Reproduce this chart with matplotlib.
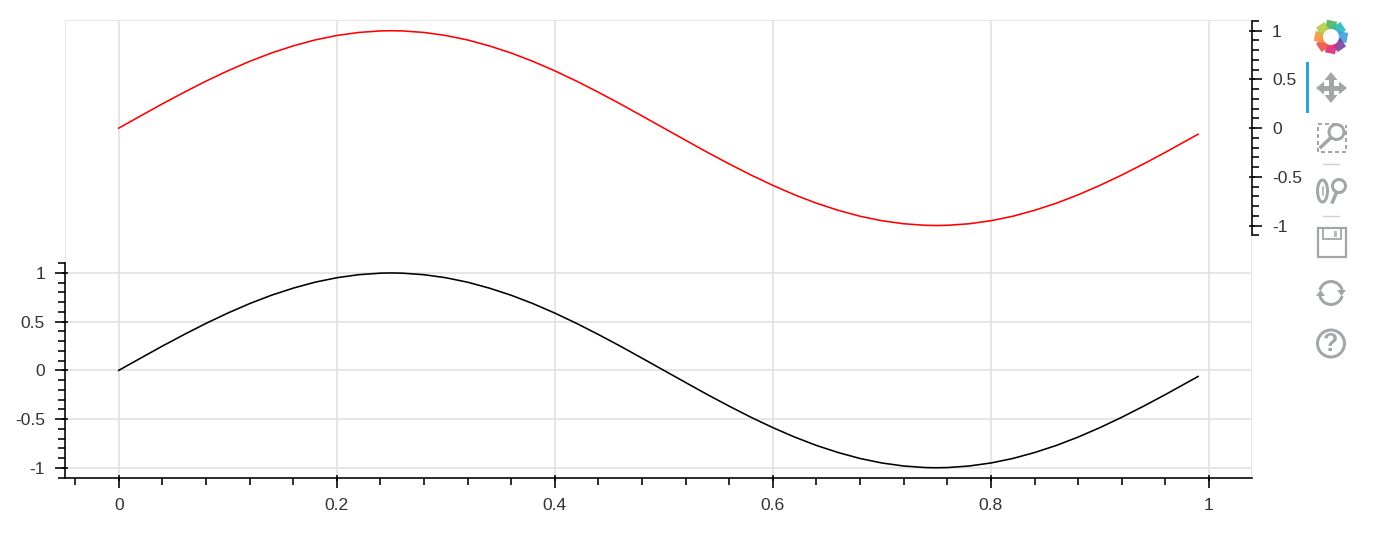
import matplotlib
matplotlib.use('Agg')
import matplotlib.pyplot as plt
from matplotlib.patches import Rectangle, Circle, Polygon, RegularPolygon, Arc, Ellipse

plt.rcParams['font.family'] = ['Liberation Sans', 'DejaVu Sans']
plt.rcParams['axes.unicode_minus'] = False

# values
x_vals = [0.00, 0.02, 0.04, 0.06, 0.08, 0.10, 0.12, 0.14, 0.16, 0.18,
          0.20, 0.22, 0.24, 0.25, 0.26, 0.28, 0.30, 0.32, 0.34, 0.36, 0.38,
          0.40, 0.42, 0.44, 0.46, 0.48, 0.50, 0.52, 0.54, 0.56, 0.58,
          0.60, 0.62, 0.64, 0.66, 0.68, 0.70, 0.72, 0.74, 0.75, 0.76, 0.78,
          0.80, 0.82, 0.84, 0.86, 0.88, 0.90, 0.92, 0.94, 0.96, 0.98, 0.99]
black_vals = [0.000, 0.125, 0.249, 0.368, 0.482, 0.588, 0.685, 0.771, 0.844, 0.905,
              0.951, 0.982, 0.998, 1.000, 0.998, 0.982, 0.951, 0.905, 0.844, 0.771, 0.685,
              0.588, 0.482, 0.368, 0.249, 0.125, 0.000, -0.125, -0.249, -0.368, -0.482,
              -0.588, -0.685, -0.771, -0.844, -0.905, -0.951, -0.982, -0.998, -1.000, -0.998, -0.982,
              -0.951, -0.905, -0.844, -0.771, -0.685, -0.588, -0.482, -0.368, -0.249, -0.125, -0.063]
red_vals = [0.000, 0.125, 0.249, 0.368, 0.482, 0.588, 0.685, 0.771, 0.844, 0.905,
            0.951, 0.982, 0.998, 1.000, 0.998, 0.982, 0.951, 0.905, 0.844, 0.771, 0.685,
            0.588, 0.482, 0.368, 0.249, 0.125, 0.000, -0.125, -0.249, -0.368, -0.482,
            -0.588, -0.685, -0.771, -0.844, -0.905, -0.951, -0.982, -0.998, -1.000, -0.998, -0.982,
            -0.951, -0.905, -0.844, -0.771, -0.685, -0.588, -0.482, -0.368, -0.249, -0.125, -0.063]

x_ticks = [0, 0.2, 0.4, 0.6, 0.8, 1]
x_labels = ['0', '0.2', '0.4', '0.6', '0.8', '1']
x_minor = [-0.04, 0.04, 0.08, 0.12, 0.16, 0.24, 0.28, 0.32, 0.36, 0.44, 0.48, 0.52, 0.56,
           0.64, 0.68, 0.72, 0.76, 0.84, 0.88, 0.92, 0.96]
y_ticks = [-1, -0.5, 0, 0.5, 1]
y_labels = ['-1', '-0.5', '0', '0.5', '1']
y_minor = [-1.1, -0.9, -0.8, -0.7, -0.6, -0.4, -0.3, -0.2, -0.1,
           0.1, 0.2, 0.3, 0.4, 0.6, 0.7, 0.8, 0.9, 1.1]

W, H = 1380, 538
GRID = '#e2e2e2'
ICON = '#a3a6a8'
TEXT = '#333333'
px = 0.72  # one pixel in points at dpi 100

fig = plt.figure(figsize=(W / 100, H / 100), dpi=100)
ax = fig.add_axes([65 / W, (H - 477.5) / H, (1252 - 65) / W, (477.5 - 20) / H])
ax.set_xlim(-0.0493, 1.0395)
ax.set_ylim(-1.1, 3.597)

ax.add_patch(Rectangle((0, 0), 1, 1, transform=ax.transAxes, fill=False, ec=GRID, lw=1.7 * px, zorder=0))
ax.grid(True, which='major', color=GRID, lw=1.7 * px)
ax.set_axisbelow(True)

ax.plot(x_vals, black_vals, color='black', lw=1.6 * px, zorder=3)

ax2 = ax.twinx()
ax2.set_ylim(-3.587, 1.11)
ax2.plot(x_vals, red_vals, color='red', lw=1.6 * px, zorder=3)

for s in ['top', 'right']:
    ax.spines[s].set_visible(False)
for s in ['top', 'left', 'bottom']:
    ax2.spines[s].set_visible(False)
ax.spines['left'].set_bounds(-1.1, 1.1)
ax2.spines['right'].set_bounds(-1.1, 1.1)
for sp in [ax.spines['left'], ax.spines['bottom'], ax2.spines['right']]:
    sp.set_linewidth(1.6 * px)
    sp.set_color('black')

ax.set_xticks(x_ticks)
ax.set_xticklabels(x_labels)
ax.set_xticks(x_minor, minor=True)
ax.set_yticks(y_ticks)
ax.set_yticklabels(y_labels)
ax.set_yticks(y_minor, minor=True)
ax2.set_yticks(y_ticks)
ax2.set_yticklabels(y_labels)
ax2.set_yticks(y_minor, minor=True)

ax.tick_params(axis='both', which='major', direction='out', length=10 * px, width=1.6 * px,
               labelsize=17.5 * px, labelcolor=TEXT, pad=10 * px)
ax.tick_params(axis='both', which='minor', direction='out', length=7 * px, width=1.6 * px)
ax2.tick_params(axis='y', which='major', direction='out', length=10 * px, width=1.6 * px,
                labelsize=17.5 * px, labelcolor=TEXT, pad=10 * px)
ax2.tick_params(axis='y', which='minor', direction='out', length=7 * px, width=1.6 * px)

# major ticks poke 3px inside the frame as well
stub = dict(ls='none', ms=6 * px, mew=1.6 * px, color='black', clip_on=False, zorder=4)
ax.plot(x_ticks, [0] * len(x_ticks), transform=ax.get_xaxis_transform(), marker='|', **stub)
ax.plot([0] * len(y_ticks), y_ticks, transform=ax.get_yaxis_transform(), marker='_', **stub)
ax2.plot([1] * len(y_ticks), y_ticks, transform=ax2.get_yaxis_transform(), marker='_', **stub)

# toolbar, drawn in pixel coordinates on top of the figure
tb = fig.add_axes([0, 0, 1, 1])
tb.set_xlim(0, W)
tb.set_ylim(H, 0)
tb.axis('off')
tb.patch.set_alpha(0)

# logo: eight petals going clockwise from the top, with a white hole
logo_colors = ['#4fb35c', '#2bb6bf', '#3f9fe0', '#7b3fa0', '#e0267a', '#f0504a', '#f7943c', '#b4cc48']
logo_dx = [0, 8, 11.3, 8, 0, -8, -11.3, -8]
logo_dy = [-11.3, -8, 0, 8, 11.3, 8, 0, -8]
for i, (c, dx, dy) in enumerate(zip(logo_colors, logo_dx, logo_dy)):
    tb.add_patch(RegularPolygon((1331 + dx, 37 + dy), 4, radius=7.2, orientation=0.785 + 0.2 + i * 0.785,
                                color=c, lw=0, alpha=0.9))
tb.add_patch(Circle((1331, 37), 8, color='white', lw=0))

# active tool marker
tb.add_patch(Rectangle((1305.5, 62), 3, 51, color='#2ea3dc', lw=0))

# pan
tb.plot([1322, 1340], [88, 88], color=ICON, lw=5 * px, solid_capstyle='butt')
tb.plot([1331, 1331], [79, 97], color=ICON, lw=5 * px, solid_capstyle='butt')
for pts in ([(1331, 72), (1324.5, 80), (1337.5, 80)], [(1331, 103), (1324.5, 95), (1337.5, 95)],
            [(1316, 88), (1324, 81.5), (1324, 94.5)], [(1347, 88), (1339, 81.5), (1339, 94.5)]):
    tb.add_patch(Polygon(pts, color=ICON, lw=0))

# box zoom
tb.add_patch(Rectangle((1317.5, 124), 28, 28, fill=False, ec=ICON, lw=2 * px, ls=(0, (2, 1.5))))
tb.add_patch(Circle((1336.5, 132), 7.5, fc='white', ec=ICON, lw=3 * px, zorder=3))
tb.add_patch(Rectangle((1339, 121), 9, 4, color='white', lw=0, zorder=2))
tb.plot([1330.5, 1321], [138, 147], color=ICON, lw=3.5 * px, zorder=3)
tb.plot([1323, 1339], [164, 164], color='#cfd1d2', lw=1.4 * px)

# wheel zoom
tb.add_patch(Ellipse((1322.5, 191), 10, 22, fill=False, ec=ICON, lw=3 * px))
tb.plot([1322.5, 1322.5], [187, 195], color=ICON, lw=1.5 * px)
tb.add_patch(Circle((1339, 186), 6.5, fill=False, ec=ICON, lw=3 * px))
tb.plot([1336.5, 1332.5], [192.5, 202], color=ICON, lw=3.5 * px)
tb.plot([1323, 1339], [216, 216], color='#cfd1d2', lw=1.4 * px)

# save
tb.add_patch(Rectangle((1317.5, 228), 28, 29, fill=False, ec=ICON, lw=2.2 * px))
tb.add_patch(Rectangle((1322.5, 228), 18, 11, fill=False, ec=ICON, lw=1.8 * px))
tb.add_patch(Rectangle((1333.5, 231), 3.5, 6, color='#b8babc', lw=0))

# reset
tb.add_patch(Arc((1331, 293), 23, 23, theta1=195, theta2=345, ec=ICON, lw=3 * px))
tb.add_patch(Arc((1331, 293), 23, 23, theta1=15, theta2=165, ec=ICON, lw=3 * px))
tb.add_patch(Polygon([(1337, 290), (1346, 290), (1341.5, 296)], color=ICON, lw=0))
tb.add_patch(Polygon([(1316, 296), (1325, 296), (1320.5, 290)], color=ICON, lw=0))

# help
tb.add_patch(Circle((1331, 343.5), 13.5, fill=False, ec=ICON, lw=3 * px))
tb.text(1331, 344, '?', color=ICON, fontsize=25 * px, fontweight='bold', ha='center', va='center')

fig.savefig('out.png', dpi=100)
